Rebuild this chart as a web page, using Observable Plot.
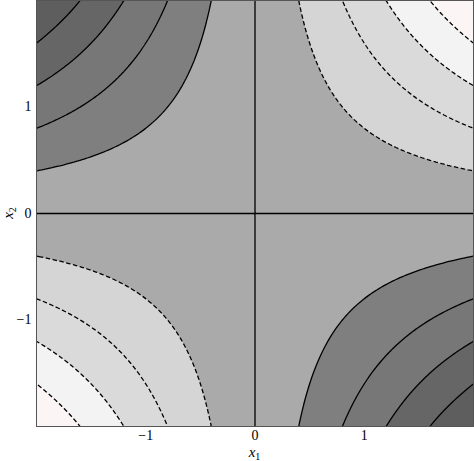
<!DOCTYPE html>
<html>
<head>
<meta charset="utf-8">
<script src="https://cdn.jsdelivr.net/npm/d3@7"></script>
<script src="https://cdn.jsdelivr.net/npm/@observablehq/plot@0.6"></script>
<style>
  html, body { margin: 0; padding: 0; background: white; }
</style>
</head>
<body>
<div id="chart"></div>
<script>
// Surface: f(x1, x2) = x1 * x2 on [-2, 2] x [-2, 2]
const surface = (x1, x2) => x1 * x2;
const domainX = [-2, 2];
const domainY = [-2, 2];

// Contour levels (lines) and filled band colours (low -> high)
const levels = [-3.2, -2.4, -1.6, -0.8, 0, 0.8, 1.6, 2.4, 3.2];
const solidLevels = [-3.2, -2.4, -1.6, -0.8, 0];
const dashedLevels = [0.8, 1.6, 2.4, 3.2];
const fillThresholds = [-4.5, -3.2, -2.4, -1.6, -0.8, 0, 0.8, 1.6, 2.4, 3.2];
const bandColors = ["#5e5e5e", "#666666", "#777777", "#7f7f7f", "#aaaaaa",
                    "#aaaaaa", "#d5d5d5", "#dadada", "#f3f3f3", "#fbf5f5"];

// Tick labels
const xTicks = [-1, 0, 1];
const yTicks = [-1, 0, 1];
const xLabel = ["x", "1"];
const yLabel = ["x", "2"];

const fmt = d => (d < 0 ? "\u2212" : "") + Math.abs(d);
const ext = {x1: -2.05, x2: 2.05, y1: -2.05, y2: 2.05};

const plot = Plot.plot({
  width: 474,
  height: 461,
  marginLeft: 36,
  marginRight: 1,
  marginTop: 0,
  marginBottom: 35,
  x: {domain: domainX},
  y: {domain: domainY},
  color: {type: "threshold", domain: levels, range: bandColors},
  style: {fontFamily: "'Liberation Serif', serif", fontSize: "14px", background: "white", color: "black"},
  marks: [
    Plot.contour({fill: surface, ...ext, thresholds: fillThresholds, stroke: "none", clip: true}),
    Plot.contour({value: surface, ...ext, thresholds: solidLevels, fill: "none", stroke: "black", strokeWidth: 1.3, clip: true}),
    Plot.contour({value: surface, ...ext, thresholds: dashedLevels, fill: "none", stroke: "black", strokeWidth: 1.3, strokeDasharray: "4.5,2.5", clip: true}),
    Plot.frame({stroke: "#555555", strokeWidth: 1}),
    Plot.axisX({ticks: xTicks, tickSize: 0, tickPadding: 4, label: null, fontSize: 14, tickFormat: fmt, fill: "black"}),
    Plot.axisY({ticks: yTicks, tickSize: 0, tickPadding: 5, label: null, fontSize: 14, tickFormat: fmt, fill: "black"})
  ]
});

document.getElementById("chart").appendChild(plot);

// Axis titles with subscripts
const svg = d3.select(plot);
const sx = plot.scale("x"), sy = plot.scale("y");
const xt = svg.append("text")
  .attr("x", sx.apply(0)).attr("y", 457)
  .attr("text-anchor", "middle")
  .attr("font-family", "'Liberation Serif', serif")
  .attr("font-size", 15);
xt.append("tspan").attr("font-style", "italic").text(xLabel[0]);
xt.append("tspan").attr("font-size", 10).attr("dy", 3).text(xLabel[1]);

const yt = svg.append("text")
  .attr("transform", `translate(13,${sy.apply(0)}) rotate(-90)`)
  .attr("text-anchor", "middle")
  .attr("font-family", "'Liberation Serif', serif")
  .attr("font-size", 15);
yt.append("tspan").attr("font-style", "italic").text(yLabel[0]);
yt.append("tspan").attr("font-size", 10).attr("dy", 3).text(yLabel[1]);
</script>
</body>
</html>
